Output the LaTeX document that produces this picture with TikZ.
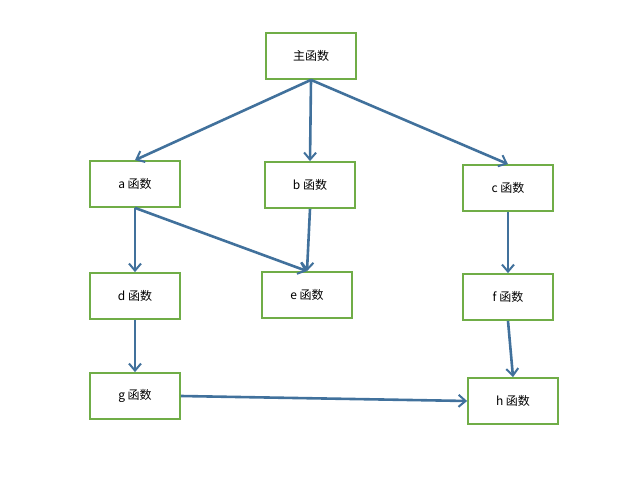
\documentclass[tikz,border=0pt]{standalone}
\usepackage{fontspec}
\setmainfont{Noto Sans CJK SC}
\usetikzlibrary{arrows.meta}
\definecolor{boxg}{RGB}{112,173,71}
\definecolor{arrb}{RGB}{65,113,156}
\begin{document}
\begin{tikzpicture}[x=1pt,y=-1pt,
  fbox/.style={draw=boxg,line width=1.8pt,minimum width=90pt,minimum height=46pt,inner sep=0pt,font=\fontsize{12}{14}\selectfont},
  conn/.style={draw=arrb,line width=2.6pt,-{Straight Barb[length=7pt,width=12pt,line width=2pt]}}]
\useasboundingbox (0,0) rectangle (640,481);
\node[fbox] (m) at (311,56) {主函数};
\node[fbox] (a) at (135,184) {a 函数};
\node[fbox] (b) at (310,185) {b 函数};
\node[fbox] (c) at (508,188) {c 函数};
\node[fbox] (d) at (135,296) {d 函数};
\node[fbox] (e) at (307,295) {e 函数};
\node[fbox] (f) at (508,297) {f 函数};
\node[fbox] (g) at (135,396) {g 函数};
\node[fbox] (h) at (513,401) {h 函数};
\draw[conn] (m.south) -- (a.north);
\draw[conn] (m.south) -- (b.north);
\draw[conn] (m.south) -- (c.north);
\draw[conn] (a.south) -- (d.north);
\draw[conn] (a.south) -- (e.north);
\draw[conn] (b.south) -- (e.north);
\draw[conn] (c.south) -- (f.north);
\draw[conn] (d.south) -- (g.north);
\draw[conn] (f.south) -- (h.north);
\draw[conn] (g.east) -- (h.west);
\end{tikzpicture}
\end{document}
